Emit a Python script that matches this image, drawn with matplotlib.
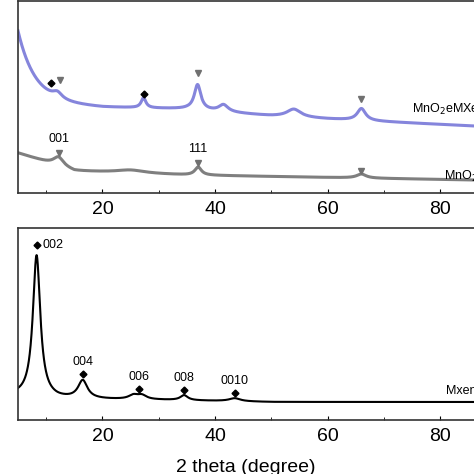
import numpy as np
import matplotlib
matplotlib.use("Agg")
import matplotlib.pyplot as plt
from matplotlib.ticker import MultipleLocator

plt.rcParams['font.family'] = ['Liberation Sans', 'DejaVu Sans']

# peak lists: (position, height, half-width)
comp_peaks = [(12.0, 6, 1.0), (27.3, 10, 0.5), (36.9, 25, 0.7), (41.5, 7, 1.0), (54.0, 8, 1.5), (66.0, 12, 0.9)]
comp_base_x = [5, 20, 35, 50, 60, 86]
comp_base_y = [92, 86, 84, 77, 74, 67]
comp_decay = (70, 3.0)
mno2_peaks = [(12.2, 9, 1.1), (25.0, 3, 3.0), (37.0, 8, 0.7), (66.0, 4, 1.0)]
mno2_base_x = [5, 15, 35, 86]
mno2_base_y = [40, 22, 18, 13]
mx_peaks = [(8.3, 142, 0.8), (16.5, 18, 1.0), (25.5, 4, 1.0), (27.0, 4, 1.0), (34.5, 5, 0.8), (43.5, 3, 1.2)]
mx_base_x = [5, 12, 30, 50, 86]
mx_base_y = [24, 21, 20, 18, 18]

x = np.linspace(5, 86, 3000)

def lor(x, peaks):
    y = np.zeros_like(x)
    for p, h, g in peaks:
        y += h * g**2 / ((x - p)**2 + g**2)
    return y

comp = np.interp(x, comp_base_x, comp_base_y) + comp_decay[0]*np.exp(-(x-5)/comp_decay[1]) + lor(x, comp_peaks)
mno2 = np.interp(x, mno2_base_x, mno2_base_y) + lor(x, mno2_peaks)
mx = np.interp(x, mx_base_x, mx_base_y) + lor(x, mx_peaks)

fig = plt.figure(figsize=(4.74, 4.74), dpi=100)
W = (474-18)/474
ax1 = fig.add_axes([18/474, 1-193/474, W, 192/474])
ax2 = fig.add_axes([18/474, 1-420/474, W, 192/474])

for ax in (ax1, ax2):
    ax.set_xlim(5, 86)
    ax.set_ylim(0, 192)
    ax.set_yticks([])
    ax.spines['right'].set_visible(False)
    for s in ax.spines.values():
        s.set_linewidth(1.2)
        s.set_color('#333333')
    ax.xaxis.set_major_locator(MultipleLocator(20))
    ax.xaxis.set_minor_locator(MultipleLocator(10))
    ax.tick_params(axis='x', which='both', direction='in', labelsize=14, pad=6)
    ax.tick_params(axis='x', which='major', length=3)
    ax.tick_params(axis='x', which='minor', length=2)

ax1.plot(x, comp, color='#8585dc', lw=2.2)
ax1.plot(x, mno2, color='#7f7f7f', lw=2.2)
tri = dict(marker='v', color='#707070', ms=5, ls='none')
dia = dict(marker='D', color='black', ms=3.5, ls='none')
ax1.plot([12.5, 37.0, 66.0], [113, 120, 94], **tri)
ax1.plot([10.8, 27.3], [110, 99], **dia)
ax1.plot([12.2, 37.0, 66.0], [40, 30, 22], **tri)
ax1.text(12.2, 48, '001', ha='center', va='bottom', fontsize=9)
ax1.text(37.0, 38, '111', ha='center', va='bottom', fontsize=9)
ax1.text(75.0, 84, 'MnO$_2$eMXene', fontsize=9, va='center')
ax1.text(80.6, 17, 'MnO$_2$', fontsize=9, va='center')

ax2.plot(x, mx, color='black', lw=1.5)
mk_x = [8.3, 16.5, 26.5, 34.5, 43.5]
mk_y = [175, 46, 31, 30, 27]
labs = ['002', '004', '006', '008', '0010']
ax2.plot(mk_x, mk_y, **dia)
ax2.text(9.4, 175, labs[0], fontsize=9, va='center')
for xx, yy, l in zip(mk_x[1:], mk_y[1:], labs[1:]):
    ax2.text(xx, yy + 6, l, ha='center', va='bottom', fontsize=9)
ax2.text(81.0, 29, 'Mxene', fontsize=9, va='center')
ax2.set_xlabel('2 theta (degree)', fontsize=14, labelpad=10)

fig.savefig('out.png', dpi=100)
